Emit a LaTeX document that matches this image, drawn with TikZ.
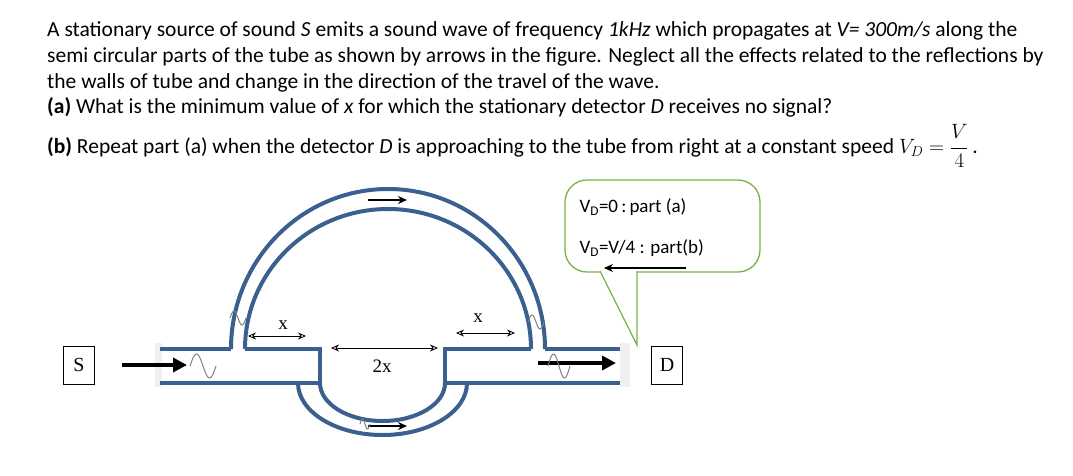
\documentclass[tikz,border=0pt]{standalone}
\usepackage{fontspec}
\setmainfont{Carlito}
\newfontfamily\serifface{Liberation Serif}
\usetikzlibrary{arrows.meta}
\definecolor{tubeblue}{RGB}{58,96,143}
\definecolor{callgreen}{RGB}{122,178,70}
\tikzset{
  tube/.style={draw=tubeblue, line width=4pt},
  qline/.style={anchor=base west, inner sep=0pt, font=\fontsize{21.5}{24}\selectfont},
  dim/.style={<->, >={Stealth[open,length=8pt,width=7pt]}, line width=0.8pt},
  bigarrow/.style={-{Triangle[length=14pt,width=14pt]}, line width=4pt},
  thinarrow/.style={-{Stealth[length=9pt,width=8pt]}, line width=1.3pt},
  wave/.style={draw=gray, line width=1pt},
  dimlabel/.style={font=\fontsize{19}{20}\selectfont\serifface},
  boxnode/.style={draw, line width=0.8pt, minimum width=31pt, minimum height=38pt, font=\fontsize{20}{22}\selectfont\serifface},
}
\begin{document}
\begin{tikzpicture}[x=1pt,y=-1pt]
\useasboundingbox (0,0) rectangle (1073,475);
% question text
\node[qline] (l1) at (47,36) {A stationary source of sound \textit{S} emits a sound wave of frequency \textit{1kHz} which propagates at \textit{V= 300m/s} along the};
\node[qline] (l2) at (47,62) {semi circular parts of the tube as shown by arrows in the figure. Neglect all the effects related to the reflections by};
\node[qline] (l3) at (47,88) {the walls of tube and change in the direction of the travel of the wave.};
\node[qline] (l4) at (47,113) {\textbf{(a)} What is the minimum value of \textit{x} for which the stationary detector \textit{D} receives no signal?};
\node[qline] (l5) at (47,153) {\textbf{(b)} Repeat part (a) when the detector \textit{D} is approaching to the tube from right at a constant speed $V_D=\displaystyle\frac{V}{4}$\,.};
% end plugs
\fill[gray!12] (155,343) rectangle (162,387);
\fill[gray!12] (620,343) rectangle (630,387);
% straight tube
\draw[tube] (160,349) -- (231,349);
\draw[tube] (245,349) -- (320,349) -- (320,383) -- (298,383);
\draw[tube] (160,383) -- (298,383);
\draw[tube] (620,349) -- (545,349);
\draw[tube] (531,349) -- (445,349) -- (445,383) -- (467,383);
\draw[tube] (467,383) -- (620,383);
% upper half circle
\draw[tube] (231,349) arc[start angle=180,end angle=360,x radius=157,y radius=160];
\draw[tube] (245,349) arc[start angle=180,end angle=360,x radius=143,y radius=140];
% lower half circle
\draw[tube] (298,383) arc[start angle=180,end angle=0,x radius=84.5,y radius=52];
\draw[tube] (320,383) arc[start angle=180,end angle=0,x radius=62.5,y radius=38];
% travel arrows
\draw[bigarrow] (122,365) -- (187,365);
\draw[bigarrow] (538,363) -- (616,363);
\draw[thinarrow, line width=2.5pt] (368,200) -- (407,200);
\draw[thinarrow, line width=2.5pt] (368,426) -- (407,426);
% waves
\draw[wave] plot[domain=0:26,samples=30] ({190+\x},{366-12*sin(\x/26*360)});
\draw[wave] plot[domain=0:22,samples=30] ({548+\x},{366-12*sin(\x/22*360)});
\draw[wave] plot[domain=0:16,samples=20] ({230+\x},{318-7*sin(\x/16*360)});
\draw[wave] plot[domain=0:16,samples=20] ({528+\x},{322-7*sin(\x/16*360)});
\draw[wave] plot[domain=0:10,samples=20] ({360+\x},{424-5*sin(\x/10*360)});
% dimensions
\draw[dim] (248,336) -- (306,336);
\node[dimlabel] (xa) at (283,325) {x};
\draw[dim] (331,348) -- (438,348);
\node[dimlabel] (xx) at (382,366) {2x};
\draw[dim] (456,333) -- (515,333);
\node[dimlabel] (xb) at (478,318) {x};
% source and detector
\node[boxnode] (S) at (79,365) {S};
\node[boxnode] (D) at (667,365) {D};
% callout
\draw[callgreen, line width=1.3pt, rounded corners=22pt]
  (600,272) -- (565,272) -- (565,180) -- (760,180) -- (760,272) -- (637,272);
\draw[callgreen, line width=1.3pt] (600,271) -- (637,345) -- (637,271);
\node[anchor=west, font=\fontsize{19}{20}\selectfont] (va) at (576,207) {V\textsubscript{D}=0\,:\,part (a)};
\node[anchor=west, font=\fontsize{19}{20}\selectfont] (vb) at (576,248) {V\textsubscript{D}=V/4 : part(b)};
\draw[thinarrow] (686,268) -- (604,268);
\end{tikzpicture}
\end{document}
